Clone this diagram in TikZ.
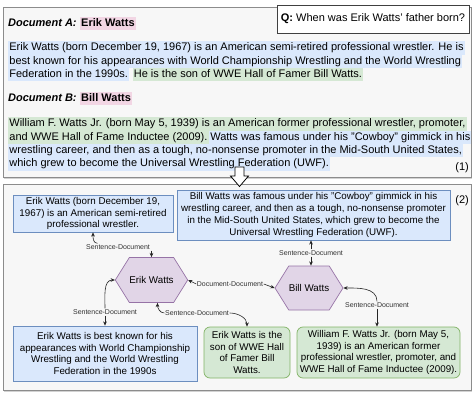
\documentclass[tikz,border=0pt]{standalone}
\usepackage{fontspec}
\setmainfont{Liberation Sans}
\usetikzlibrary{arrows.meta,shapes.symbols,shadows,calc}
\definecolor{hlblue}{HTML}{DAE8FC}
\definecolor{hlgreen}{HTML}{D5E8D4}
\definecolor{hlpink}{HTML}{F2D6E4}
\definecolor{bluestroke}{HTML}{6C8EBF}
\definecolor{greenstroke}{HTML}{82B366}
\definecolor{purplefill}{HTML}{E1D5E7}
\definecolor{purplestroke}{HTML}{9673A6}
\definecolor{panelfill}{HTML}{F7F7F7}
\definecolor{panelstroke}{HTML}{8C8C8C}
\tikzset{
  panel/.style={draw=panelstroke, fill=panelfill, line width=0.9pt, anchor=north west, inner sep=0pt,
    drop shadow={shadow xshift=1pt, shadow yshift=-1.2pt, opacity=0.35}},
  bodyfont/.style={font=\fontsize{11}{13.3}\selectfont},
  hl/.style={bodyfont, inner xsep=1.2pt, inner ysep=0pt, text height=9.6pt, text depth=3.7pt, anchor=base west},
  hlb/.style={hl, fill=hlblue},
  hlg/.style={hl, fill=hlgreen},
  titlelbl/.style={font=\fontsize{11}{13}\selectfont\bfseries\itshape, inner sep=0pt, anchor=base west},
  titlename/.style={font=\fontsize{11}{13}\selectfont\bfseries, fill=hlpink, inner xsep=1.2pt, inner ysep=0pt,
    text height=9.6pt, text depth=3.2pt, anchor=base west},
  boxfont/.style={font=\fontsize{9.8}{11.7}\selectfont, align=center},
  sbox/.style={boxfont, draw=bluestroke, fill=hlblue, line width=0.7pt, inner sep=0pt},
  gbox/.style={boxfont, draw=greenstroke, fill=hlgreen, line width=0.7pt, rounded corners=6pt, inner sep=0pt},
  hexnode/.style={shape=signal, signal to=east and west, signal pointer angle=116, draw=purplestroke,
    fill=purplefill, line width=0.7pt, font=\fontsize{9.8}{11.7}\selectfont, inner sep=0pt},
  elabel/.style={font=\fontsize{7}{8}\selectfont, text=black!80, inner xsep=0.5pt, inner ysep=1pt},
  arr/.style={-{Stealth[length=4.2pt,width=3.6pt]}, line width=0.6pt, draw=black!85},
}
\begin{document}
\begin{tikzpicture}[x=1pt, y=-1pt]
\useasboundingbox (0,0) rectangle (474,417);
\fill[white] (0,0) rectangle (474,417);

% panels
\node[panel, minimum width=468pt, minimum height=170pt] (p1) at (3,7) {};
\node[panel, minimum width=468pt, minimum height=206pt] (p2) at (3,184) {};

% question box
\node[draw=black!75, fill=white, line width=0.8pt, minimum width=192pt, minimum height=28pt, inner sep=0pt,
  bodyfont] (q) at (373,19) {\textbf{Q:} When was Erik Watts' father born?};

% Document A
\node[titlelbl] (ta) at (8,27) {Document A:};
\node[titlename] (tan) at ([xshift=3pt]ta.base east) {Erik Watts};
\node[hlb] (a1) at (8,51) {Erik Watts (born December 19, 1967) is an American semi-retired professional wrestler. He is};
\node[hlb] (a2) at (8,64.3) {best known for his appearances with World Championship Wrestling and the World Wrestling};
\node[hlb] (a3) at (8,77.6) {Federation in the 1990s.};
\node[hlg] (a3g) at ([xshift=3pt]a3.base east) {He is the son of WWE Hall of Famer Bill Watts.};

% Document B
\node[titlelbl] (tb) at (8,102) {Document B:};
\node[titlename] (tbn) at ([xshift=3pt]tb.base east) {Bill Watts};
\node[hlg] (b1) at (8,127) {William F. Watts Jr. (born May 5, 1939) is an American former professional wrestler, promoter,};
\node[hlg] (b2) at (8,140.3) {and WWE Hall of Fame Inductee (2009).};
\node[hlb] (b2b) at (b2.base east) {Watts was famous under his "Cowboy" gimmick in his};
\node[hlb] (b3) at (8,153.6) {wrestling career, and then as a tough, no-nonsense promoter in the Mid-South United States,};
\node[hlb] (b4) at (8,166.9) {which grew to become the Universal Wrestling Federation (UWF).};
\node[bodyfont, inner sep=0pt, anchor=base east] (n1) at (469,171) {(1)};

% block arrow between panels
\draw[fill=white, draw=black, line width=0.8pt, line join=miter]
  (235,167) -- (244,167) -- (244,176) -- (248.5,176) -- (239.5,186.5) -- (230.5,176) -- (235,176) -- cycle;

\node[bodyfont, inner sep=0pt, anchor=base east] (n2) at (469,204) {(2)};

% sentence / document nodes
\node[sbox, minimum width=160pt, minimum height=37pt] (s1) at (93,213.5)
  {Erik Watts (born December 19,\\1967) is an American semi-retired\\professional wrestler.};
\node[sbox, minimum width=273pt, minimum height=50pt] (s2) at (313.5,215)
  {Bill Watts was famous under his "Cowboy" gimmick in his\\wrestling career, and then as a tough, no-nonsense promoter\\in the Mid-South United States, which grew to become the\\Universal Wrestling Federation (UWF).};
\node[sbox, minimum width=184pt, minimum height=55pt] (s3) at (105,353.5)
  {Erik Watts is best known for his\\appearances with World Championship\\Wrestling and the World Wrestling\\Federation in the 1990s};
\node[gbox, minimum width=86pt, minimum height=51pt] (s4) at (247,352.5)
  {Erik Watts is the\\son of WWE Hall\\of Famer Bill\\Watts.};
\node[gbox, minimum width=163pt, minimum height=51pt] (s5) at (378.5,352.5)
  {William F. Watts Jr. (born May 5,\\1939) is an American former\\professional wrestler, promoter, and\\WWE Hall of Fame Inductee (2009).};

\node[hexnode, minimum width=57pt, minimum height=45pt] (erik) at (151.5,280) {Erik Watts};
\node[hexnode, minimum width=58pt, minimum height=44pt] (bill) at (309,288) {Bill Watts};

% edge labels
\node[elabel] (l1) at (118,247) {Sentence-Document};
\node[elabel] (l2) at (230,284) {Document-Document};
\node[elabel] (l3) at (311,253) {Sentence-Document};
\node[elabel] (l4) at (105,312) {Sentence-Document};
\node[elabel] (l5) at (197,313) {Sentence-Document};
\node[elabel] (l6) at (377,305) {Sentence-Document};

% edges
\draw[arr] ([xshift=12pt]l1.north west) to[out=180,in=-90] (s1.south);
\draw[arr] (l1.south -| erik.north) -- (erik.north);
\draw[arr] (l2.west) -- (erik.east);
\draw[arr] (l2.east) -- (bill.west);
\draw[arr] (l3.north) -- (l3.north |- s2.south);
\draw[arr] (l3.south) -- (l3.south |- bill.north);
\draw[arr] (l4.north) to[out=90,in=180] (erik.west);
\draw[arr] (l4.south) -- (l4.south |- s3.north);
\draw[arr] (l5.west) to[out=180,in=-90] ([xshift=6pt]erik.south);
\draw[arr] (l5.east) to[out=0,in=90] (s4.north);
\draw[arr] (l6.north) to[out=90,in=0] (bill.east);
\draw[arr] (l6.south) -- (l6.south |- s5.north);
\end{tikzpicture}
\end{document}
